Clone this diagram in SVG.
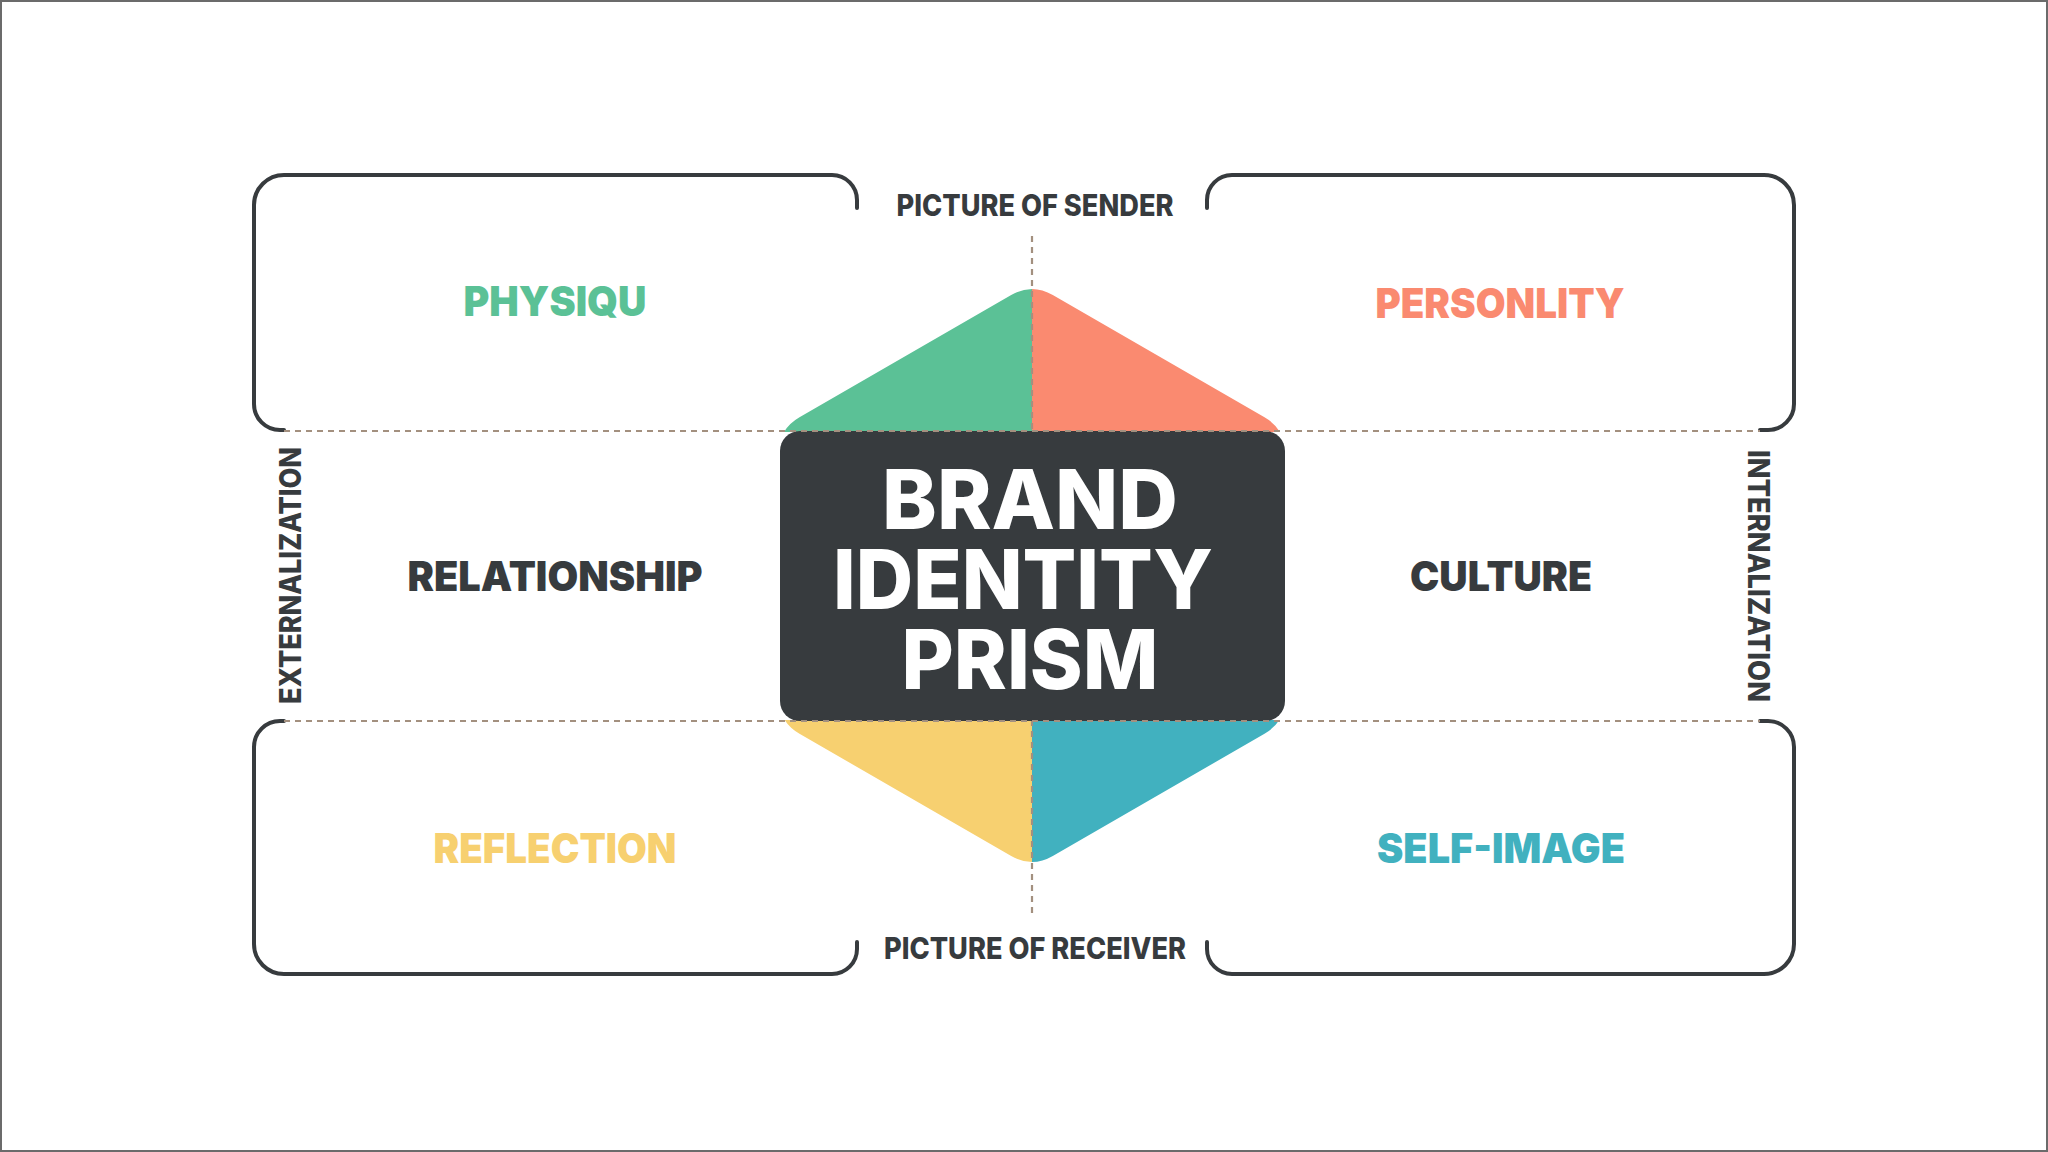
<svg xmlns="http://www.w3.org/2000/svg" width="2048" height="1152" viewBox="0 0 2048 1152">
  <style>
    .bracket { fill: none; stroke: #373b3e; stroke-width: 4; stroke-linecap: round; }
    .dash { fill: none; stroke: #a3907f; stroke-width: 2.2; stroke-dasharray: 6 5; }
    .lbl { font-family: "Inter", "Open Sans", "Liberation Sans", sans-serif; font-weight: 900; font-size: 41px; text-anchor: middle; }
    .axis { font-family: "Inter", "Open Sans", "Liberation Sans", sans-serif; font-weight: 800; font-size: 30px; fill: #373b3e; text-anchor: middle; }
    .title { font-family: "Inter", "Open Sans", "Liberation Sans", sans-serif; font-weight: 800; font-size: 82px; fill: #ffffff; text-anchor: middle; }
  </style>
  <defs>
    <path id="hex" d="M 1011.2 295 Q 1032 283 1052.8 295 L 1264.5 417.25 Q 1285.3 429.25 1285.3 453.25 L 1285.3 697.75 Q 1285.3 721.75 1264.5 733.75 L 1052.8 856 Q 1032 868 1011.2 856 L 799.5 733.75 Q 778.7 721.75 778.7 697.75 L 778.7 453.25 Q 778.7 429.25 799.5 417.25 Z"/>
    <clipPath id="cTL"><rect x="700" y="250" width="332" height="182"/></clipPath>
    <clipPath id="cTR"><rect x="1032" y="250" width="332" height="182"/></clipPath>
    <clipPath id="cBL"><rect x="700" y="720" width="332" height="186"/></clipPath>
    <clipPath id="cBR"><rect x="1032" y="720" width="332" height="186"/></clipPath>
  </defs>

  <rect x="1" y="1" width="2046" height="1150" fill="#ffffff" stroke="#6b6b6b" stroke-width="2"/>

  <g id="frames">
    <path class="bracket" d="M 284 430 H 280 A 26 26 0 0 1 254 404 V 205 A 30 30 0 0 1 284 175 H 832 A 25 25 0 0 1 857 200 V 208"/>
    <path class="bracket" d="M 1207 208 V 200 A 25 25 0 0 1 1232 175 H 1764 A 30 30 0 0 1 1794 205 V 404 A 26 26 0 0 1 1768 430 H 1760"/>
    <path class="bracket" d="M 284 721 H 280 A 26 26 0 0 0 254 747 V 944 A 30 30 0 0 0 284 974 H 832 A 25 25 0 0 0 857 949 V 942"/>
    <path class="bracket" d="M 1207 942 V 949 A 25 25 0 0 0 1232 974 H 1764 A 30 30 0 0 0 1794 944 V 747 A 26 26 0 0 0 1768 721 H 1760"/>
  </g>

  <g id="prism">
    <use href="#hex" fill="#5bc196" clip-path="url(#cTL)"/>
    <use href="#hex" fill="#fa8a70" clip-path="url(#cTR)"/>
    <use href="#hex" fill="#f7d070" clip-path="url(#cBL)"/>
    <use href="#hex" fill="#41b1bf" clip-path="url(#cBR)"/>
  </g>

  <g id="connectors">
    <line class="dash" x1="1032" y1="236" x2="1032" y2="915"/>
  </g>

  <g id="center">
    <rect x="780" y="431" width="505" height="290" rx="20" ry="20" fill="#373b3e"/>
    <text class="title" x="1030" y="529" textLength="296" lengthAdjust="spacingAndGlyphs">BRAND</text>
    <text class="title" x="1023" y="609" textLength="380" lengthAdjust="spacingAndGlyphs">IDENTITY</text>
    <text class="title" x="1030" y="689" textLength="257" lengthAdjust="spacingAndGlyphs">PRISM</text>
  </g>

  <g id="dividers">
    <line class="dash" x1="284" y1="431" x2="1760" y2="431"/>
    <line class="dash" x1="284" y1="721" x2="1760" y2="721"/>
  </g>

  <g id="axis-sender"><text class="axis" x="1035" y="216" textLength="277" lengthAdjust="spacingAndGlyphs">PICTURE OF SENDER</text></g>
  <g id="axis-receiver"><text class="axis" x="1035" y="959" textLength="302" lengthAdjust="spacingAndGlyphs">PICTURE OF RECEIVER</text></g>
  <g id="axis-externalization"><text class="axis" transform="translate(301,575.5) rotate(-90)" x="0" y="0" textLength="257" lengthAdjust="spacingAndGlyphs">EXTERNALIZATION</text></g>
  <g id="axis-internalization"><text class="axis" transform="translate(1748,576) rotate(90)" x="0" y="0" textLength="252" lengthAdjust="spacingAndGlyphs">INTERNALIZATION</text></g>

  <g id="node-physiqu"><text class="lbl" x="555" y="316" fill="#5bc196" textLength="183" lengthAdjust="spacingAndGlyphs">PHYSIQU</text></g>
  <g id="node-personlity"><text class="lbl" x="1500" y="318" fill="#fa8a70" textLength="249" lengthAdjust="spacingAndGlyphs">PERSONLITY</text></g>
  <g id="node-relationship"><text class="lbl" x="555" y="591" fill="#373b3e" textLength="295" lengthAdjust="spacingAndGlyphs">RELATIONSHIP</text></g>
  <g id="node-culture"><text class="lbl" x="1501" y="591" fill="#373b3e" textLength="182" lengthAdjust="spacingAndGlyphs">CULTURE</text></g>
  <g id="node-reflection"><text class="lbl" x="555" y="863" fill="#f7d070" textLength="243" lengthAdjust="spacingAndGlyphs">REFLECTION</text></g>
  <g id="node-self-image"><text class="lbl" x="1501" y="863" fill="#41b1bf" textLength="248" lengthAdjust="spacingAndGlyphs">SELF-IMAGE</text></g>
</svg>
